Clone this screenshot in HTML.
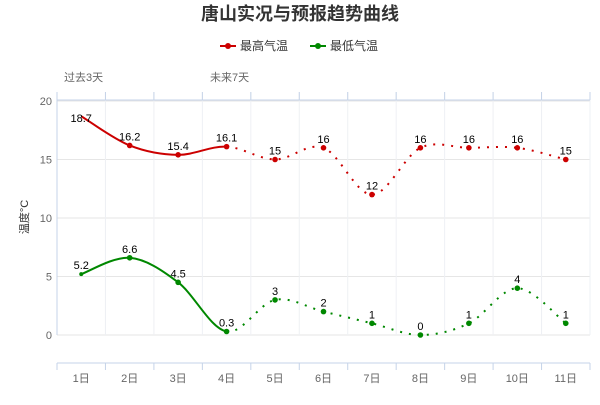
<!DOCTYPE html><html><head><meta charset="utf-8"><style>body{margin:0;background:#fff}svg text{font-family:"Liberation Sans","Noto Sans CJK SC",sans-serif}</style></head><body>
<svg id="s" width="600" height="400" xmlns="http://www.w3.org/2000/svg">
<text x="300" y="20" text-anchor="middle" font-size="18" font-weight="bold" fill="#333">唐山实况与预报趋势曲线</text>
<line x1="220" y1="46" x2="236" y2="46" stroke="#c00" stroke-width="2"/><circle cx="228" cy="46" r="3" fill="#c00"/>
<text x="240" y="50" font-size="12" fill="#333">最高气温</text>
<line x1="310" y1="46" x2="326" y2="46" stroke="#080" stroke-width="2"/><circle cx="318" cy="46" r="3" fill="#080"/>
<text x="330" y="50" font-size="12" fill="#333">最低气温</text>
<text x="64" y="81" font-size="11" fill="#666">过去3天</text>
<text x="210" y="81" font-size="11" fill="#666">未来7天</text>
<g id="g"></g>
</svg>
<script>
var g=document.getElementById('g'),h='';
var L=57,R=590,W=(R-L)/11;function X(i){return L+W*(i+.5)}function Y(v){return 335-v*11.7}
[0,5,10,15,20].forEach(function(v){h+='<line x1="57" x2="590" y1="'+Y(v)+'" y2="'+Y(v)+'" stroke="#e6e6e6"/>';h+='<text x="52" y="'+(Y(v)+4)+'" font-size="11" fill="#666" text-anchor="end">'+v+'</text>'});
for(var k=0;k<=11;k++){var x=L+W*k;if(k>0)h+='<line x1="'+x+'" x2="'+x+'" y1="92" y2="335" stroke="#eef0f4"/>';h+='<line x1="'+x+'" x2="'+x+'" y1="92" y2="100" stroke="#c5d3e8"/><line x1="'+x+'" x2="'+x+'" y1="363" y2="370" stroke="#c5d3e8"/>';if(k<11)h+='<text x="'+X(k)+'" y="382" font-size="11" fill="#666" text-anchor="middle">'+(k+1)+'日</text>'}
h+='<line x1="57" x2="590" y1="100" y2="100" stroke="#c5d3e8"/><line x1="57" x2="590" y1="363" y2="363" stroke="#c5d3e8"/><line x1="57" x2="57" y1="92" y2="335" stroke="#c5d3e8"/>';
h+='<text transform="translate(28,217) rotate(-90)" font-size="11" fill="#333" text-anchor="middle">温度°C</text>';
function path(p,a,b){var d='M'+p[a][0]+','+p[a][1];for(var i=a;i<b;i++){var p0=p[Math.max(i-1,0)],p1=p[i],p2=p[i+1],p3=p[Math.min(i+2,p.length-1)];var t=.5/3;d+='C'+(p1[0]+(p2[0]-p0[0])*t)+','+(p1[1]+(p2[1]-p0[1])*t)+' '+(p2[0]-(p3[0]-p1[0])*t)+','+(p2[1]-(p3[1]-p1[1])*t)+' '+p2[0]+','+p2[1]}return d}
function ser(v,c,lab,first){var p=v.map(function(y,i){return[X(i),Y(y)]});h+='<path d="'+path(p,0,3)+'" fill="none" stroke="'+c+'" stroke-width="2"/>';h+='<path d="'+path(p,3,10)+'" fill="none" stroke="'+c+'" stroke-width="2" stroke-dasharray="2,7"/>';p.forEach(function(q,i){if(i>0||first)h+='<circle cx="'+q[0]+'" cy="'+q[1]+'" r="'+(i==0?2:2.8)+'" fill="'+c+'"/>';var ly=(i==0&&!first)?q[1]+6:q[1]-5;h+='<text x="'+q[0]+'" y="'+ly+'" font-size="11" fill="#000" text-anchor="middle">'+lab[i]+'</text>'})}
var mx=[18.7,16.2,15.4,16.1,15,16,12,16,16,16,15],mn=[5.2,6.6,4.5,0.3,3,2,1,0,1,4,1];
ser(mx,'#c00',mx,false);ser(mn,'#080',mn,true);
g.innerHTML=h;
</script></body></html>
